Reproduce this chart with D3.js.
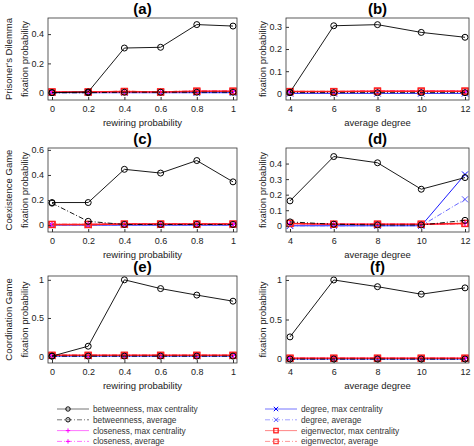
<!DOCTYPE html>
<html><head><meta charset="utf-8">
<script src="https://d3js.org/d3.v7.min.js"></script>
<style>body{margin:0;background:#fff}svg{font-family:"Liberation Sans",Arial,sans-serif}</style>
</head><body><svg id="c" width="474" height="446"></svg>
<script>
// X VALUES
var rewiring = [0, 0.2, 0.4, 0.6, 0.8, 1];
var degrees = [4, 6, 8, 10, 12];

// PANEL DATA (a)-(f): betweenness max / avg, low lines (closeness, eigenvector), degree max / avg
var a_btwMax = [0.0, 0.005, 0.305, 0.31, 0.465, 0.455];
var a_btwAvg = [0.0, 0.0, 0.003, 0.003, 0.003, 0.003];
var a_low = [0.005, 0.005, 0.008, 0.005, 0.01, 0.01];
var b_btwMax = [0.005, 0.305, 0.31, 0.275, 0.253];
var b_btwAvg = [0.003, 0.003, 0.003, 0.003, 0.003];
var b_low = [0.008, 0.008, 0.01, 0.01, 0.01];
var c_btwMax = [0.18, 0.18, 0.445, 0.415, 0.515, 0.345];
var c_btwAvg = [0.175, 0.03, 0.005, 0.005, 0.005, 0.005];
var c_low = [0.005, 0.005, 0.008, 0.008, 0.008, 0.008];
var d_btwMax = [0.16, 0.445, 0.405, 0.235, 0.31];
var d_btwAvg = [0.025, 0.01, 0.005, 0.005, 0.035];
var d_degMax = [0, 0, 0, 0, 0.33];
var d_degAvg = [0, 0, 0, 0, 0.17];
var d_low = [0.015, 0.01, 0.01, 0.01, 0.015];
var e_btwMax = [0.0, 0.13, 1.0, 0.885, 0.8, 0.72];
var e_btwAvg = [0.0, 0.0, 0.0, 0.0, 0.0, 0.0];
var e_low = [0.01, 0.01, 0.01, 0.01, 0.01, 0.01];
var f_btwMax = [0.28, 1.0, 0.915, 0.82, 0.9];
var f_btwAvg = [0.0, 0.0, 0.0, 0.0, 0.0];
var f_low = [0.01, 0.01, 0.01, 0.01, 0.01];

var zeros6 = [0, 0, 0, 0, 0, 0];
var zeros5 = [0, 0, 0, 0, 0];

// TICKS AND LABELS
var rowLabels = ["Prisoner's Dilemma", "Coexistence Game", "Coordination Game"];
var legendLeft = ["betweenness, max centrality", "betweenness, average", "closeness, max centrality", "closeness, average"];
var legendRight = ["degree, max centrality", "degree, average", "eigenvector, max centrality", "eigenvector, average"];

var svg = d3.select('#c');

// SERIES STYLES
var styles = {
   btwMax: {color: '#000', dash: null, marker: 'circle'},
   btwAvg: {color: '#000', dash: '5,2,1,2', marker: 'circle'},
   cloMax: {color: '#ff00ff', dash: null, marker: 'plus'},
   cloAvg: {color: '#ff00ff', dash: '5,2,1,2', marker: 'plus'},
   degMax: {color: '#0000ff', dash: null, marker: 'cross'},
   degAvg: {color: '#5555ff', dash: '5,2,1,2', marker: 'cross'},
   eigMax: {color: '#ff2020', dash: null, marker: 'square'},
   eigAvg: {color: '#ff4040', dash: '5,2,1,2', marker: 'square'}
};

// DRAW A MARKER
function marker(g, type, x, y, color, s) {
   s = s || 3;
   if (type == 'circle') {
      g.append('circle').attr('cx', x).attr('cy', y).attr('r', s).attr('fill', 'none').attr('stroke', color).attr('stroke-width', 1);
   } else if (type == 'square') {
      g.append('rect').attr('x', x - s).attr('y', y - s).attr('width', 2 * s).attr('height', 2 * s).attr('fill', 'none').attr('stroke', color).attr('stroke-width', 1.3);
   } else if (type == 'plus') {
      g.append('path').attr('d', 'M' + (x - s) + ',' + y + 'h' + 2 * s + 'M' + x + ',' + (y - s) + 'v' + 2 * s).attr('stroke', color);
   } else {
      g.append('path').attr('d', 'M' + (x - s) + ',' + (y - s) + 'l' + 2 * s + ',' + 2 * s + 'M' + (x - s) + ',' + (y + s) + 'l' + 2 * s + ',' + (-2 * s)).attr('stroke', color);
   }
}

// DRAW ONE PANEL
function panel(p) {
   var x = d3.scaleLinear().domain(p.xd).range([p.left, p.right]);
   var y = d3.scaleLinear().domain(p.yd).range([p.bottom, p.top]);
   var g = svg.append('g');

   // SERIES (low ones first so black is on top)
   var order = ['degMax', 'degAvg', 'cloMax', 'cloAvg', 'eigAvg', 'eigMax', 'btwAvg', 'btwMax'];
   order.forEach(function (k) {
      var vals = p.series[k];
      var st = styles[k];
      var line = d3.line().x(function (d, i) { return x(p.xs[i]); }).y(function (d) { return y(d); });
      g.append('path').attr('d', line(vals)).attr('fill', 'none').attr('stroke', st.color)
         .attr('stroke-width', k.indexOf('eig') == 0 ? 1.5 : 0.9).attr('stroke-dasharray', st.dash);
      vals.forEach(function (v, i) { marker(g, st.marker, x(p.xs[i]), y(v), st.color); });
   });

   // AXIS BOX
   g.append('rect').attr('x', p.left - 4).attr('y', p.top).attr('width', p.right - p.left + 8).attr('height', p.bottom - p.top)
      .attr('fill', 'none').attr('stroke', '#333').attr('stroke-width', 0.8);

   var xa = g.append('g').attr('transform', 'translate(0,' + p.bottom + ')')
      .call(d3.axisBottom(x).tickValues(p.xs).tickFormat(d3.format('')).tickSize(-3).tickPadding(6));
   var ya = g.append('g').attr('transform', 'translate(' + (p.left - 4) + ',0)')
      .call(d3.axisLeft(y).tickValues(p.yt).tickFormat(d3.format('')).tickSize(-3).tickPadding(4));
   [xa, ya].forEach(function (a) {
      a.select('.domain').remove();
      a.selectAll('line').attr('stroke', '#333');
      a.selectAll('text').attr('font-size', 9).attr('fill', '#222').attr('font-family', 'Liberation Sans, Arial');
   });

   g.append('text').attr('x', (p.left + p.right) / 2).attr('y', p.top - 4).attr('text-anchor', 'middle')
      .attr('font-size', 15).attr('font-weight', 'bold').text(p.title);
   g.append('text').attr('x', (p.left + p.right) / 2).attr('y', p.bottom + 26).attr('text-anchor', 'middle')
      .attr('font-size', 9.5).attr('fill', '#222').text(p.xlabel);
   g.append('text').attr('transform', 'translate(' + (p.left - 24) + ',' + ((p.top + p.bottom) / 2) + ') rotate(-90)')
      .attr('text-anchor', 'middle').attr('font-size', 9.5).attr('fill', '#222').text('fixation probability');
}

function series(btwMax, btwAvg, low, degMax, degAvg) {
   return {
      btwMax: btwMax, btwAvg: btwAvg, cloMax: low, cloAvg: low,
      degMax: degMax, degAvg: degAvg, eigMax: low, eigAvg: low
   };
}

var rows = [{top: 18, bottom: 100}, {top: 148, bottom: 232}, {top: 276, bottom: 363}];
var L = {left: 52, right: 233, xs: rewiring, xd: [0, 1], xlabel: 'rewiring probability'};
var R = {left: 290, right: 465, xs: degrees, xd: [4, 12], xlabel: 'average degree'};

var panels = [
   [L, 0, '(a)', [-0.05, 0.51], [0, 0.2, 0.4], series(a_btwMax, a_btwAvg, a_low, zeros6, zeros6)],
   [R, 0, '(b)', [-0.03, 0.34], [0, 0.1, 0.2, 0.3], series(b_btwMax, b_btwAvg, b_low, zeros5, zeros5)],
   [L, 1, '(c)', [-0.055, 0.615], [0, 0.2, 0.4, 0.6], series(c_btwMax, c_btwAvg, c_low, zeros6, zeros6)],
   [R, 1, '(d)', [-0.04, 0.5], [0, 0.1, 0.2, 0.3, 0.4], series(d_btwMax, d_btwAvg, d_low, d_degMax, d_degAvg)],
   [L, 2, '(e)', [-0.09, 1.05], [0, 0.5, 1], series(e_btwMax, e_btwAvg, e_low, zeros6, zeros6)],
   [R, 2, '(f)', [-0.05, 1.05], [0, 0.5, 1], series(f_btwMax, f_btwAvg, f_low, zeros5, zeros5)]
];

panels.forEach(function (d) {
   panel(Object.assign({}, d[0], rows[d[1]], {title: d[2], yd: d[3], yt: d[4], series: d[5]}));
});

// ROW LABELS
rowLabels.forEach(function (t, i) {
   svg.append('text').attr('transform', 'translate(12,' + ((rows[i].top + rows[i].bottom) / 2) + ') rotate(-90)')
      .attr('text-anchor', 'middle').attr('font-size', 9.5).attr('fill', '#222').text(t);
});

// LEGEND
var legKeys = [['btwMax', 'btwAvg', 'cloMax', 'cloAvg'], ['degMax', 'degAvg', 'eigMax', 'eigAvg']];
[[legendLeft, 57], [legendRight, 265]].forEach(function (grp, gi) {
   var lg = svg.append('g');
   grp[0].forEach(function (t, i) {
      var yy = 409 + i * 10.8;
      var st = styles[legKeys[gi][i]];
      lg.append('line').attr('x1', grp[1]).attr('x2', grp[1] + 32).attr('y1', yy).attr('y2', yy)
         .attr('stroke', st.color).attr('stroke-width', 0.9).attr('stroke-dasharray', st.dash).attr('opacity', 0.6);
      marker(lg, st.marker, grp[1] + 11, yy, st.color, 2.2);
      lg.append('text').attr('x', grp[1] + 36).attr('y', yy + 3).attr('font-size', 8.3).attr('fill', '#333').text(t);
   });
});
</script></body></html>
